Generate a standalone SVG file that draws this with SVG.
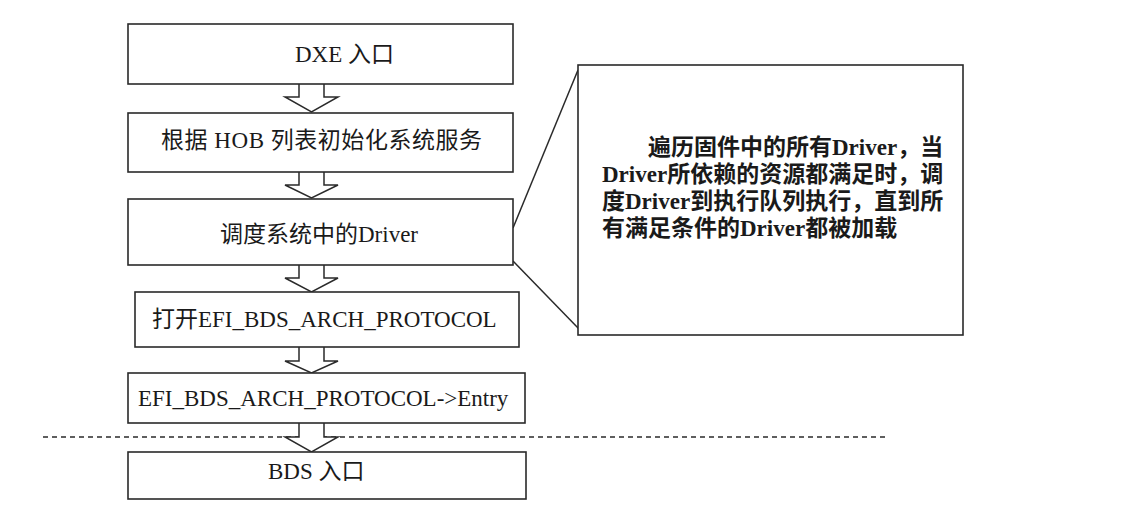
<svg xmlns="http://www.w3.org/2000/svg" width="1126" height="519" viewBox="0 0 1126 519">
<style>
.box{fill:#fff;stroke:#2a2a2a;stroke-width:1.6}
.arr{fill:#fff;stroke:#2a2a2a;stroke-width:1.5;stroke-linejoin:miter}
.t{font-family:"Liberation Serif","Noto Sans CJK SC",serif;font-size:23px;fill:#1a1a1a}
.c{font-family:"Liberation Serif","Noto Sans CJK SC",serif;font-size:23px;font-weight:bold;fill:#1a1a1a}
.ln{stroke:#2a2a2a;stroke-width:1.5;fill:none}
</style>
<rect width="1126" height="519" fill="#fff"/>
<g id="connectors">
<line class="ln" x1="43" y1="437" x2="887" y2="437" stroke-dasharray="5 4"/>
<line class="ln" x1="513" y1="228" x2="578" y2="70"/>
<line class="ln" x1="513" y1="261" x2="579" y2="329"/>
<polyline class="arr" points="299,84 299,97 285,97 311.5,112 338,97 324,97 324,84"/>
<polyline class="arr" points="299,172 299,185 285,185 311.5,198 338,185 324,185 324,172"/>
<polyline class="arr" points="299,265 299,278 285,278 311.5,292 338,278 324,278 324,265"/>
<polyline class="arr" points="299,347 299,361 285,361 311.5,373 338,361 324,361 324,347"/>
<polyline class="arr" points="299,423 299,437 285,437 311.5,452 338,437 324,437 324,423"/>
</g>
<g id="n1"><rect class="box" x="128" y="24" width="385" height="60"/><text class="t" x="295" y="62">DXE 入口</text></g>
<g id="n2"><rect class="box" x="128" y="113" width="385" height="59"/><text class="t" x="161" y="148" textLength="321">根据 HOB 列表初始化系统服务</text></g>
<g id="n3"><rect class="box" x="128" y="199" width="385" height="66"/><text class="t" x="220" y="242">调度系统中的Driver</text></g>
<g id="n4"><rect class="box" x="135" y="292" width="384" height="55"/><text class="t" x="152" y="327">打开EFI_BDS_ARCH_PROTOCOL</text></g>
<g id="n5"><rect class="box" x="128" y="373" width="397" height="50"/><text class="t" x="138" y="406">EFI_BDS_ARCH_PROTOCOL-&gt;Entry</text></g>
<g id="n6"><rect class="box" x="128" y="452" width="398" height="47"/><text class="t" x="268" y="479">BDS 入口</text></g>
<g id="note"><rect class="box" x="578" y="65" width="385" height="270"/>
<text class="c" x="648" y="155">遍历固件中的所有Driver，当</text>
<text class="c" x="602" y="182">Driver所依赖的资源都满足时，调</text>
<text class="c" x="602" y="209">度Driver到执行队列执行，直到所</text>
<text class="c" x="602" y="236">有满足条件的Driver都被加载</text>
</g>
</svg>
